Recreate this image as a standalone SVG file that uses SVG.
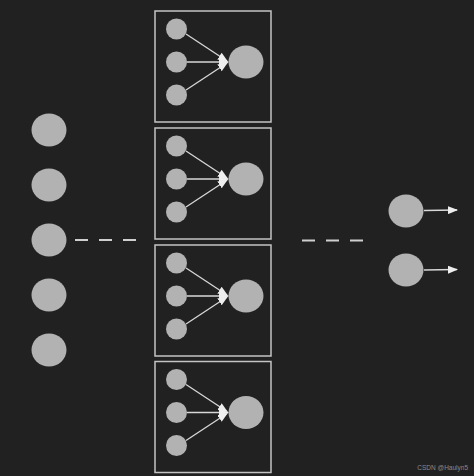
<svg xmlns="http://www.w3.org/2000/svg" width="474" height="476" viewBox="0 0 474 476">
<style>
.bg{fill:#212121}
.n{fill:#b2b2b2}
.box{fill:none;stroke:#c4c4c4;stroke-width:1.5}
.e{stroke:#d8d8d8;stroke-width:1.3;fill:none}
.d{stroke:#cfcfcf;stroke-width:1.8;stroke-dasharray:13 11;fill:none}
.wm{font-family:"Liberation Sans",Arial,sans-serif;font-size:6.5px;fill:#8a8a8a}
</style>
<defs>
<marker id="ah" markerWidth="10" markerHeight="8" refX="9" refY="4" orient="auto" markerUnits="userSpaceOnUse">
<path d="M0,0 L10,4 L0,8 Z" fill="#eeeeee"/>
</marker>
<g id="unit">
<rect class="box" x="155" y="11" width="116" height="111"/>
<circle class="n" cx="176.5" cy="29" r="10.5"/>
<circle class="n" cx="176.5" cy="62" r="10.5"/>
<circle class="n" cx="176.5" cy="95" r="10.5"/>
<ellipse class="n" cx="246" cy="62" rx="17.5" ry="16.5"/>
<line class="e" x1="186" y1="34" x2="227" y2="61" marker-end="url(#ah)"/>
<line class="e" x1="187" y1="62" x2="228" y2="62" marker-end="url(#ah)"/>
<line class="e" x1="186" y1="90" x2="227" y2="63" marker-end="url(#ah)"/>
</g>
</defs>
<rect class="bg" width="474" height="476"/>
<g id="input">
<ellipse class="n" cx="49" cy="130" rx="17.5" ry="16.5"/>
<ellipse class="n" cx="49" cy="185" rx="17.5" ry="16.5"/>
<ellipse class="n" cx="49" cy="240" rx="17.5" ry="16.5"/>
<ellipse class="n" cx="49" cy="295" rx="17.5" ry="16.5"/>
<ellipse class="n" cx="49" cy="350" rx="17.5" ry="16.5"/>
</g>
<g id="unit1"><use href="#unit"/></g>
<g id="unit2"><use href="#unit" y="117"/></g>
<g id="unit3"><use href="#unit" y="234"/></g>
<g id="unit4"><use href="#unit" y="350.5"/></g>
<g id="output">
<ellipse class="n" cx="406" cy="211" rx="17.5" ry="16.5"/>
<ellipse class="n" cx="406" cy="270" rx="17.5" ry="16.5"/>
</g>
<g id="connectors">
<line class="d" x1="75" y1="240" x2="137" y2="240"/>
<line class="d" x1="302" y1="240.5" x2="364" y2="240.5"/>
<line class="e" x1="424" y1="210.5" x2="457" y2="210" marker-end="url(#ah)"/>
<line class="e" x1="424" y1="270" x2="457" y2="269.5" marker-end="url(#ah)"/>
</g>
<text class="wm" x="468" y="470" text-anchor="end">CSDN @Haulyn5</text>
</svg>
